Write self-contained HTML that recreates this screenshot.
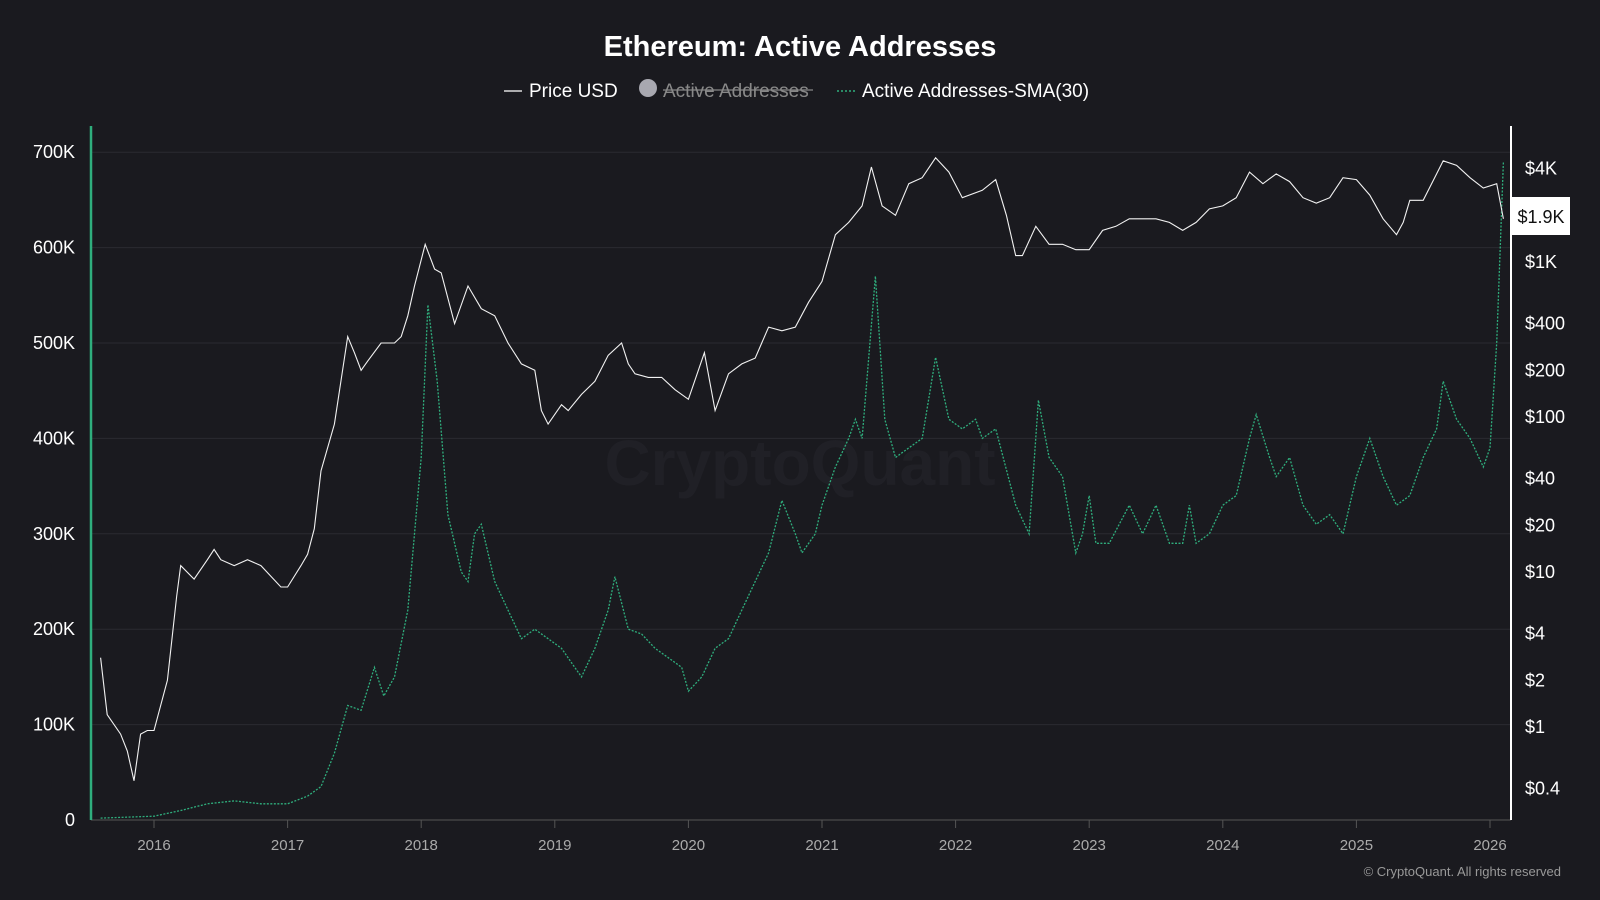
<!DOCTYPE html>
<html><head><meta charset="utf-8"><style>
html,body{margin:0;padding:0;background:#1a1a1f;}
svg{display:block;font-family:"Liberation Sans",sans-serif;}
</style></head><body>
<svg id="chart" width="1600" height="900" viewBox="0 0 1600 900">
<rect width="1600" height="900" fill="#1a1a1f"/>
<text x="800" y="56" text-anchor="middle" fill="#fff" font-size="29" font-weight="bold">Ethereum: Active Addresses</text>
<g font-size="19">
 <g><line x1="504" y1="91" x2="522" y2="91" stroke="#ddd" stroke-width="1.5"/><text x="529" y="97" fill="#fff">Price USD</text></g>
 <g><circle cx="648" cy="88" r="9" fill="#a8a8b0"/><text x="663" y="97" fill="#888">Active Addresses</text><line x1="663" y1="90" x2="813" y2="90" stroke="#888" stroke-width="1.3"/></g>
 <g><line x1="837" y1="91" x2="856" y2="91" stroke="#2fae7d" stroke-width="1.5" stroke-dasharray="2,2"/><text x="862" y="97" fill="#fff">Active Addresses-SMA(30)</text></g>
</g>
<text x="800" y="485" text-anchor="middle" fill="#202026" font-size="64" font-weight="bold">CryptoQuant</text>
<g id="grid"></g>
<g id="yLeft" font-size="18" fill="#fff"></g>
<g id="yRight" font-size="18" fill="#fff"></g>
<g id="xAxis" font-size="15" fill="#aaa"></g>
<path id="smaLine" fill="none" stroke="#2fae7d" stroke-width="1.3" stroke-dasharray="2,1.5"/>
<path id="priceLine" fill="none" stroke="#f2f2f2" stroke-width="1.1"/>
<line x1="91" y1="126" x2="91" y2="820" stroke="#2fae7d" stroke-width="2.5"/>
<line x1="1511" y1="126" x2="1511" y2="820" stroke="#fff" stroke-width="2"/>
<g><rect x="1512" y="197" width="58" height="38" fill="#fff"/><text x="1541" y="223" text-anchor="middle" fill="#111" font-size="18">$1.9K</text></g>
<text x="1561" y="876" text-anchor="end" fill="#999" font-size="13">© CryptoQuant. All rights reserved</text>
</svg>
<script>
const leftTicks=[0,100,200,300,400,500,600,700];
const leftTickLabels=["0","100K","200K","300K","400K","500K","600K","700K"];
const rightTicks=[0.4,1,2,4,10,20,40,100,200,400,1000,4000];
const rightTickLabels=["$0.4","$1","$2","$4","$10","$20","$40","$100","$200","$400","$1K","$4K"];
const xTicks=[2016,2017,2018,2019,2020,2021,2022,2023,2024,2025,2026];
const priceDates=[2015.6,2015.65,2015.75,2015.8,2015.85,2015.9,2015.95,2016.0,2016.1,2016.17,2016.2,2016.3,2016.4,2016.45,2016.5,2016.6,2016.7,2016.8,2016.95,2017.0,2017.1,2017.15,2017.2,2017.25,2017.35,2017.45,2017.5,2017.55,2017.6,2017.7,2017.8,2017.85,2017.9,2017.95,2018.03,2018.1,2018.15,2018.25,2018.35,2018.45,2018.55,2018.65,2018.75,2018.85,2018.9,2018.95,2019.05,2019.1,2019.2,2019.3,2019.4,2019.5,2019.55,2019.6,2019.7,2019.8,2019.9,2020.0,2020.12,2020.2,2020.3,2020.4,2020.5,2020.6,2020.7,2020.8,2020.9,2021.0,2021.1,2021.2,2021.3,2021.37,2021.45,2021.55,2021.65,2021.75,2021.85,2021.95,2022.05,2022.2,2022.3,2022.38,2022.45,2022.5,2022.6,2022.7,2022.8,2022.9,2023.0,2023.1,2023.2,2023.3,2023.5,2023.6,2023.7,2023.8,2023.9,2024.0,2024.1,2024.2,2024.3,2024.4,2024.5,2024.6,2024.7,2024.8,2024.9,2025.0,2025.1,2025.2,2025.3,2025.35,2025.4,2025.5,2025.6,2025.65,2025.75,2025.85,2025.95,2026.05,2026.1];
const priceValues=[2.8,1.2,0.9,0.7,0.45,0.9,0.95,0.95,2,7,11,9,12,14,12,11,12,11,8,8,11,13,19,45,90,330,260,200,230,300,300,330,450,700,1300,900,850,400,700,500,450,300,220,200,110,90,120,110,140,170,250,300,220,190,180,180,150,130,260,110,190,220,240,380,360,380,550,750,1500,1800,2300,4100,2300,2000,3200,3500,4700,3800,2600,2900,3400,2000,1100,1100,1700,1300,1300,1200,1200,1600,1700,1900,1900,1800,1600,1800,2200,2300,2600,3800,3200,3700,3300,2600,2400,2600,3500,3400,2700,1900,1500,1800,2500,2500,3700,4500,4200,3500,3000,3200,1900];
const smaDates=[2015.6,2016.0,2016.2,2016.4,2016.6,2016.8,2017.0,2017.15,2017.25,2017.35,2017.45,2017.55,2017.65,2017.72,2017.8,2017.9,2018.0,2018.05,2018.12,2018.2,2018.3,2018.35,2018.4,2018.45,2018.55,2018.65,2018.75,2018.85,2018.95,2019.05,2019.15,2019.2,2019.3,2019.4,2019.45,2019.55,2019.65,2019.75,2019.85,2019.95,2020.0,2020.1,2020.2,2020.3,2020.4,2020.5,2020.6,2020.7,2020.8,2020.85,2020.95,2021.0,2021.1,2021.2,2021.25,2021.3,2021.4,2021.47,2021.55,2021.65,2021.75,2021.85,2021.95,2022.05,2022.15,2022.2,2022.3,2022.45,2022.55,2022.62,2022.7,2022.8,2022.9,2022.95,2023.0,2023.05,2023.15,2023.3,2023.4,2023.5,2023.6,2023.7,2023.75,2023.8,2023.9,2024.0,2024.1,2024.2,2024.25,2024.35,2024.4,2024.5,2024.6,2024.7,2024.8,2024.9,2025.0,2025.1,2025.2,2025.3,2025.4,2025.5,2025.6,2025.65,2025.75,2025.85,2025.95,2026.0,2026.05,2026.1];
const smaValues=[2,4,10,17,20,17,17,25,35,70,120,115,160,130,150,220,380,540,460,320,260,250,300,310,250,220,190,200,190,180,160,150,180,220,255,200,195,180,170,160,135,150,180,190,220,250,280,335,300,280,300,330,370,400,420,400,570,420,380,390,400,485,420,410,420,400,410,330,300,440,380,360,280,300,340,290,290,330,300,330,290,290,330,290,300,330,340,400,425,380,360,380,330,310,320,300,360,400,360,330,340,380,410,460,420,400,370,390,500,690];
const NS="http://www.w3.org/2000/svg";
const X0=91,X1=1511,Y0=820;
function xs(t){return 154+(t-2016)*133.6;}
function yl(v){return 820-v*0.954;}
function yr(p){return 727-155*Math.log10(p);}
const grid=document.getElementById('grid'),yL=document.getElementById('yLeft'),yR=document.getElementById('yRight'),xA=document.getElementById('xAxis');
leftTicks.forEach((v,i)=>{
 if(v>0){const g=document.createElementNS(NS,'line');
 g.setAttribute('x1',X0);g.setAttribute('x2',X1);g.setAttribute('y1',yl(v));g.setAttribute('y2',yl(v));g.setAttribute('stroke','#2a2a31');
 
 
 grid.appendChild(g);}
 const t=document.createElementNS(NS,'text');t.setAttribute('x',75);t.setAttribute('y',yl(v)+6);t.setAttribute('text-anchor','end');t.textContent=leftTickLabels[i];
 
 
 yL.appendChild(t);
});
const base=document.createElementNS(NS,'line');base.setAttribute('x1',X0);base.setAttribute('x2',X1);base.setAttribute('y1',Y0);base.setAttribute('y2',Y0);base.setAttribute('stroke','#555');


grid.appendChild(base);
rightTicks.forEach((v,i)=>{
 const t=document.createElementNS(NS,'text');t.setAttribute('x',1525);t.setAttribute('y',yr(v)+6);t.textContent=rightTickLabels[i];
 
 
 yR.appendChild(t);
});
xTicks.forEach(y=>{
 const l=document.createElementNS(NS,'line');l.setAttribute('x1',xs(y));l.setAttribute('x2',xs(y));l.setAttribute('y1',Y0);l.setAttribute('y2',Y0+8);l.setAttribute('stroke','#555');
 
 
 xA.appendChild(l);
 const t=document.createElementNS(NS,'text');t.setAttribute('x',xs(y));t.setAttribute('y',850);t.setAttribute('text-anchor','middle');t.textContent=y;
 
 
 xA.appendChild(t);
});
document.getElementById('priceLine').setAttribute('d',priceDates.map((d,i)=>(i?'L':'M')+xs(d).toFixed(1)+','+yr(priceValues[i]).toFixed(1)).join(''));
document.getElementById('smaLine').setAttribute('d',smaDates.map((d,i)=>(i?'L':'M')+xs(d).toFixed(1)+','+yl(smaValues[i]).toFixed(1)).join(''));
</script>
</body></html>
